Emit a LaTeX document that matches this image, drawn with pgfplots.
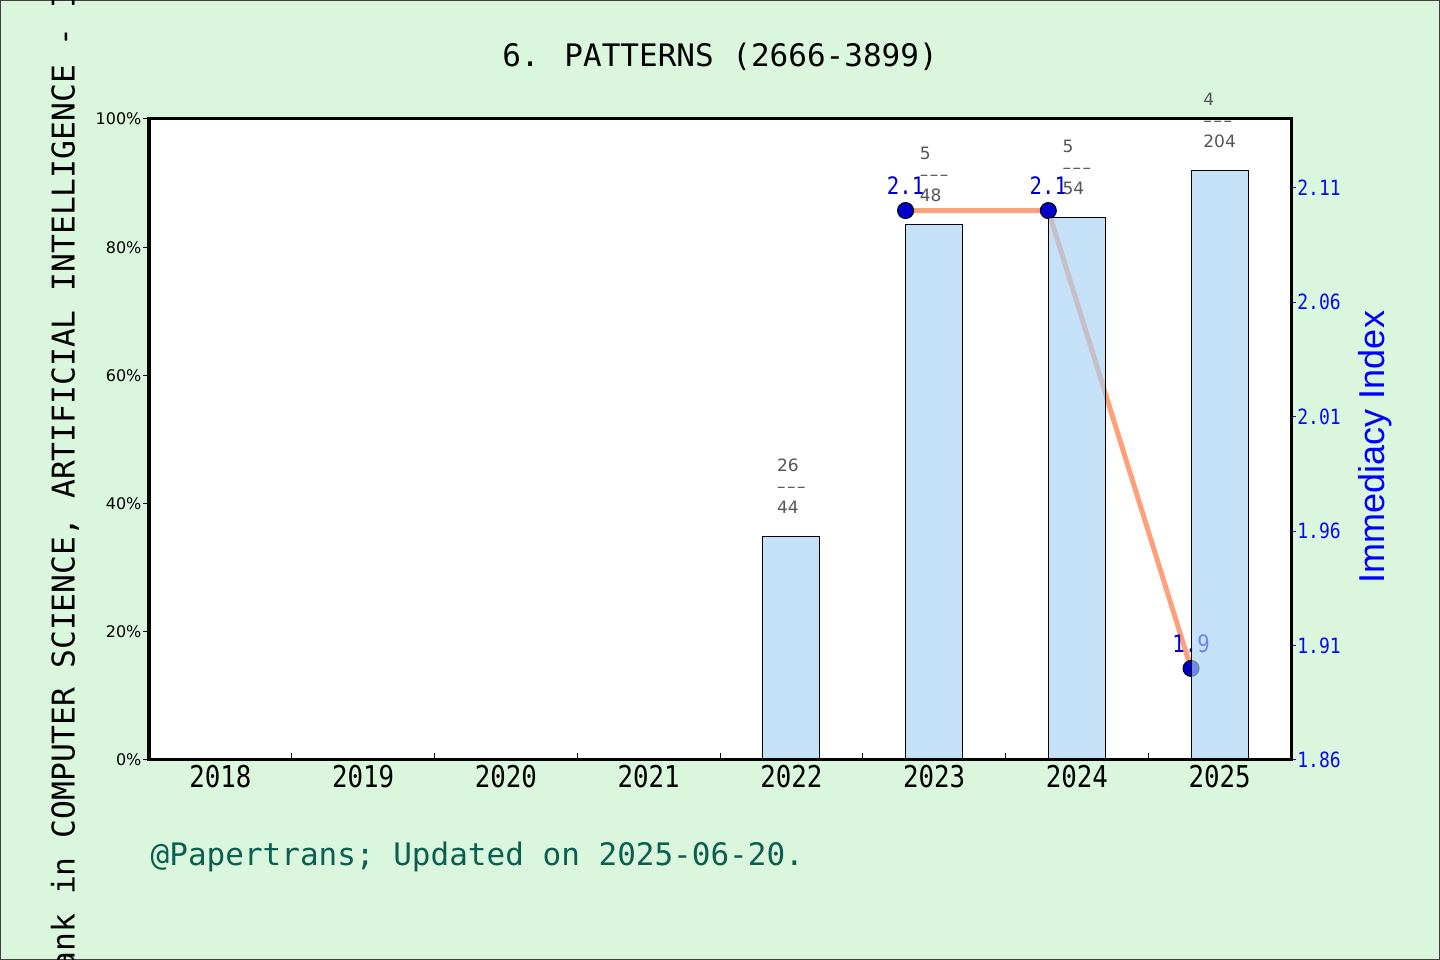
\documentclass[border=0pt]{standalone}
\usepackage{pgfplots}
\pgfplotsset{compat=1.18}
\usepackage{pgfplotstable}
\usepackage{fontspec}
\setmainfont{DejaVu Sans}
\newfontfamily\hei{DejaVu Sans Mono}
\newfontfamily\heinarrow{DejaVu Sans Mono}[FakeStretch=0.86]
\newfontfamily\arialf{Liberation Sans}
\definecolor{bg}{RGB}{218,247,222}
\definecolor{barblue}{RGB}{166,209,243}
\definecolor{salmon}{RGB}{255,160,122}
\definecolor{mblue}{RGB}{0,0,205}
\definecolor{labgray}{RGB}{85,85,85}
\definecolor{foot}{RGB}{11,94,82}
\definecolor{tblue}{RGB}{10,10,235}

\pgfplotstableread{
x y top bot
4 34.8 26 44
5 83.5 5 48
6 84.6 5 54
7 91.9 4 204
}\bardata

\newcommand\dashes{\textendash\kern1.2pt\textendash\kern1.2pt\textendash}

\begin{document}
\begin{tikzpicture}
\useasboundingbox (0,0) rectangle (1080pt,720pt);
\clip (0,0) rectangle (1080pt,720pt);
\fill[bg] (0,0) rectangle (1080pt,720pt);
\draw[line width=0.75pt, black!75] (0.375pt,0.375pt) rectangle (1079.625pt,719.625pt);
% plot area background
\fill[white] (111.75pt,150pt) rectangle (968.25pt,630.75pt);

% ---- line axis (right) ----
\begin{axis}[
  at={(111.75pt,150pt)}, anchor=south west,
  scale only axis, width=856.5pt, height=480.75pt,
  xmin=-0.5, xmax=7.5,
  ymin=1.86, ymax=2.14,
  hide x axis,
  axis y line*=right,
  axis line style={line width=2.25pt, black},
  ytick={1.86,1.91,1.96,2.01,2.06,2.11},
  yticklabels={1.86,1.91,1.96,2.01,2.06,2.11},
  tick align=outside,
  major tick length=3.75pt,
  tick style={tblue, line width=0.75pt},
  yticklabel style={font=\heinarrow\fontsize{15.75pt}{17pt}\selectfont, text=tblue, inner sep=0pt, xshift=0.75pt},
  clip=false,
]
\addplot[draw=salmon, line width=3.75pt, mark=*, mark size=6pt,
  mark options={fill=mblue, draw=black, line width=0.75pt},
  point meta=explicit symbolic,
  nodes near coords,
  every node near coord/.append style={anchor=center, yshift=18.75pt, inner sep=0pt,
     text=mblue, font=\heinarrow\fontsize{18pt}{20pt}\selectfont}]
  coordinates {(4.8,2.1) [2.1] (5.8,2.1) [2.1] (6.8,1.9) [1.9]};
\end{axis}

% ---- bar axis (left) ----
\begin{axis}[
  at={(111.75pt,150pt)}, anchor=south west,
  scale only axis, width=856.5pt, height=480.75pt,
  xmin=-0.5, xmax=7.5,
  ymin=0, ymax=100,
  axis on top,
  axis line style={line width=2.25pt, black},
  xtick={0,1,2,3,4,5,6,7},
  xticklabels={2018,2019,2020,2021,2022,2023,2024,2025},
  major x tick style={draw=none},
  xtick pos=bottom,
  ytick={0,20,40,60,80,100},
  yticklabels={0\%,20\%,40\%,60\%,80\%,100\%},
  ytick pos=left,
  tick align=outside,
  major tick length=4.5pt,
  tick style={black, line width=0.75pt},
  xticklabel style={font=\heinarrow\fontsize{22.5pt}{24pt}\selectfont, inner sep=0pt, yshift=0.75pt},
  yticklabel style={font=\fontsize{12pt}{14pt}\selectfont, inner sep=0pt, xshift=-1pt},
  clip=false,
]
\addplot[ybar, bar width=42.75pt, fill=barblue, fill opacity=0.65, draw=black, line width=0.75pt]
  coordinates {(0,0) (1,0) (2,0) (3,0)};
\addplot[ybar, bar width=42.75pt, fill=barblue, fill opacity=0.65, draw=black, line width=0.75pt,
  visualization depends on={\thisrow{top} \as \toplab},
  visualization depends on={\thisrow{bot} \as \botlab},
  nodes near coords={\pgfmathprintnumber[assume math mode=true]{\toplab}\\\dashes\\\pgfmathprintnumber[assume math mode=true]{\botlab}},
  every node near coord/.append style={align=left, anchor=center, yshift=38pt, inner sep=0pt,
     text=labgray, text opacity=1, fill opacity=1,
     font=\fontsize{12.75pt}{15.75pt}\selectfont}]
  table[x=x, y=y] {\bardata};
\end{axis}

% ---- boundary ticks ----
\begin{axis}[
  at={(111.75pt,150pt)}, anchor=south west,
  scale only axis, width=856.5pt, height=480.75pt,
  xmin=-0.5, xmax=7.5, ymin=0, ymax=1,
  hide y axis,
  axis x line*=bottom,
  axis line style={line width=2.25pt, black},
  xtick={0.5,1.5,2.5,3.5,4.5,5.5,6.5},
  xticklabels={},
  tick align=inside,
  major tick length=5.25pt,
  tick style={black, line width=0.75pt},
]
\addplot[draw=none] coordinates {(0,0)};
\end{axis}

% titles and labels
\node[anchor=base, font=\hei\fontsize{23.25pt}{26pt}\selectfont] at (540pt,669.75pt) {6. PATTERNS (2666-3899)};
\node[anchor=base west, text=foot, font=\hei\fontsize{23.25pt}{26pt}\selectfont] at (109.5pt,70.5pt) {@Papertrans; Updated on 2025-06-20.};
\node[rotate=90, anchor=base west, font=\hei\fontsize{23.5pt}{26pt}\selectfont] at (56pt,-25.5pt) {Rank in COMPUTER SCIENCE, ARTIFICIAL INTELLIGENCE - IF};
\node[rotate=90, anchor=center, text=blue, font=\arialf\fontsize{27pt}{30pt}\selectfont] at (1031.25pt,384.75pt) {Immediacy Index};
\end{tikzpicture}
\end{document}
